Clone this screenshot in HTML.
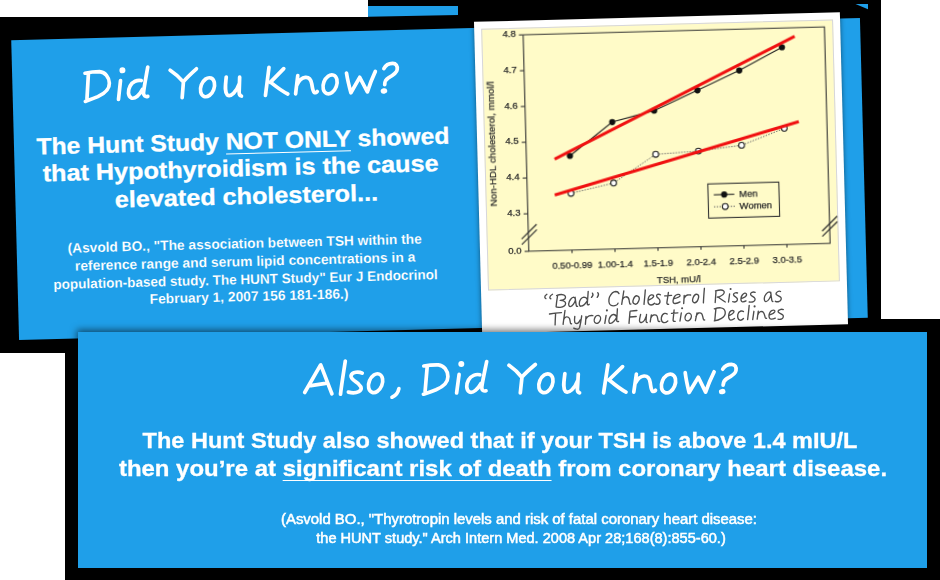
<!DOCTYPE html>
<html><head><meta charset="utf-8"><title>Did You Know</title>
<style>
*{margin:0;padding:0;box-sizing:border-box}
html,body{width:940px;height:580px;overflow:hidden;background:#000}
body{position:relative;font-family:"Liberation Sans",sans-serif;color:#fff}
.wb{position:absolute;background:#fff}
#card1{position:absolute;left:14.85px;top:29px;width:849.3px;height:300px;background:#1f9fe9;transform:rotate(-1.5deg)}
.t{position:absolute;width:900px;text-align:center;white-space:nowrap;line-height:1.2;transform-origin:50% 50%}
.hw{font-weight:normal;letter-spacing:2px;-webkit-text-stroke:0.15px #1f9fe9}
.b{font-weight:bold;-webkit-text-stroke:0.3px #fff}
.r{font-weight:bold;-webkit-text-stroke:0.15px #1f9fe9}
.rr{font-weight:normal;-webkit-text-stroke:0.5px #fff}
.cap{color:#5c5c5c;font-weight:normal;-webkit-text-stroke:0.25px #fff}
.u{text-decoration:underline;text-decoration-thickness:1.3px;text-underline-offset:4px;text-decoration-skip-ink:none}
#chart{position:absolute;left:477.8px;top:17px;width:366px;height:312px;background:#fff;transform:rotate(-1.5deg);box-shadow:0 0 5px rgba(0,0,0,.5)}
#cream{position:absolute;left:7px;top:7.3px;width:352px;height:262px;background:#fffbc8;border:1px solid #d6d6dc}
#chart svg{position:absolute;left:0;top:0;will-change:transform}
#card2{position:absolute;left:78px;top:332px;width:849px;height:236px;background:#1f9fe9;box-shadow:-1px -2px 7px rgba(0,0,0,.55)}
</style></head><body>
<div class="wb" style="left:0;top:0;width:368px;height:17px"></div>
<div class="wb" style="left:881px;top:0;width:59px;height:319px"></div>
<div class="wb" style="left:0;top:353px;width:65px;height:227px"></div>
<svg style="position:absolute;left:0;top:0" width="940" height="30">
<polygon points="368,6 458,6 458,15 368,16.8" fill="#1f9fe9"/>
<polygon points="855.5,4 868,4 868,9.2" fill="#1f9fe9"/>
</svg>
<div id="card1">
<div class="t b" style="left:-220.6px;top:94.0px;font-size:23.3px;transform:scaleX(1.0603)">The Hunt Study <span class="u">NOT ONLY</span> showed</div>
<div class="t b" style="left:-224.1px;top:121.2px;font-size:23.3px;transform:scaleX(1.0806)">that Hypothyroidism is the cause</div>
<div class="t b" style="left:-219.3px;top:149.3px;font-size:23.3px;transform:scaleX(1.0812)">elevated cholesterol...</div>
<div class="t r" style="left:-221.8px;top:202.0px;font-size:13.8px;transform:scaleX(0.9949)">(Asvold BO., "The association between TSH within the</div>
<div class="t r" style="left:-221.9px;top:220.1px;font-size:13.8px;transform:scaleX(1.0025)">reference range and serum lipid concentrations in a</div>
<div class="t r" style="left:-222.0px;top:237.5px;font-size:13.8px;transform:scaleX(0.9810)">population-based study. The HUNT Study" Eur J Endocrinol</div>
<div class="t r" style="left:-219.1px;top:255.4px;font-size:13.8px;transform:scaleX(1.0012)">February 1, 2007 156 181-186.)</div>
</div>
<div id="chart">
<div id="cream"></div>
<svg width="366" height="313" viewBox="0 0 366 313" font-family="Liberation Sans, sans-serif">
<g stroke="#333" stroke-width="1.1" fill="none">
<polyline points="48.8,14.3 350.2,14.3 350.2,230.8 48.8,230.8 48.8,14.3"/>
<line x1="44.599999999999994" y1="14.3" x2="48.8" y2="14.3"/>
<line x1="44.599999999999994" y1="50.1" x2="48.8" y2="50.1"/>
<line x1="44.599999999999994" y1="85.9" x2="48.8" y2="85.9"/>
<line x1="44.599999999999994" y1="121.7" x2="48.8" y2="121.7"/>
<line x1="44.599999999999994" y1="157.5" x2="48.8" y2="157.5"/>
<line x1="44.599999999999994" y1="193.3" x2="48.8" y2="193.3"/>
<line x1="44.599999999999994" y1="230.8" x2="48.8" y2="230.8"/>
<line x1="92" y1="230.8" x2="92" y2="233.8"/>
<line x1="135" y1="230.8" x2="135" y2="233.8"/>
<line x1="178" y1="230.8" x2="178" y2="233.8"/>
<line x1="221" y1="230.8" x2="221" y2="233.8"/>
<line x1="264" y1="230.8" x2="264" y2="233.8"/>
<line x1="307" y1="230.8" x2="307" y2="233.8"/>
</g>
<g stroke="#2a2a2a" stroke-width="1.2">
<line x1="42" y1="218.4" x2="57.3" y2="204"/><line x1="42" y1="223.9" x2="57.4" y2="209.4"/>
<line x1="342.6" y1="223.6" x2="358" y2="209.2"/><line x1="342.6" y1="218.2" x2="358" y2="203.8"/>
</g>
<g font-size="9.6" fill="#2a2a2a" stroke="#2a2a2a" stroke-width="0.25" text-anchor="end">
<text x="41.6" y="16.0">4.8</text>
<text x="41.6" y="51.8">4.7</text>
<text x="41.6" y="87.6">4.6</text>
<text x="41.6" y="123.4">4.5</text>
<text x="41.6" y="159.2">4.4</text>
<text x="41.6" y="195.0">4.3</text>
<text x="41.6" y="232.5">0.0</text>
</g>
<g font-size="9.5" fill="#2a2a2a" stroke="#2a2a2a" stroke-width="0.25" text-anchor="middle">
<text x="92" y="249">0.50-0.99</text>
<text x="135" y="249">1.00-1.4</text>
<text x="178" y="249">1.5-1.9</text>
<text x="221" y="249">2.0-2.4</text>
<text x="264" y="249">2.5-2.9</text>
<text x="307" y="249">3.0-3.5</text>
<text x="198" y="266.3">TSH, mU/l</text>
<text transform="translate(18.0,122.6) rotate(-90)" x="0" y="0" font-size="9.8">Non-HDL cholesterol, mmol/l</text>
</g>
<polyline fill="none" stroke="#666" stroke-width="1" stroke-dasharray="1.4 1.4" points="92.5,174 135.4,164.8 178.2,137.2 221,135.1 264.3,130.4 307.4,114.6"/>
<polyline fill="none" stroke="#222" stroke-width="1.1" points="92.4,136.5 135.6,103.8 177.8,93.4 221.6,74.3 263.9,55.6 307.2,33.5"/>
<circle cx="92.4" cy="136.5" r="3.1" fill="#111"/>
<circle cx="135.6" cy="103.8" r="3.1" fill="#111"/>
<circle cx="177.8" cy="93.4" r="3.1" fill="#111"/>
<circle cx="221.6" cy="74.3" r="3.1" fill="#111"/>
<circle cx="263.9" cy="55.6" r="3.1" fill="#111"/>
<circle cx="307.2" cy="33.5" r="3.1" fill="#111"/>
<circle cx="92.5" cy="174" r="2.9" fill="#fff" stroke="#222" stroke-width="1.1"/>
<circle cx="135.4" cy="164.8" r="2.9" fill="#fff" stroke="#222" stroke-width="1.1"/>
<circle cx="178.2" cy="137.2" r="2.9" fill="#fff" stroke="#222" stroke-width="1.1"/>
<circle cx="221" cy="135.1" r="2.9" fill="#fff" stroke="#222" stroke-width="1.1"/>
<circle cx="264.3" cy="130.4" r="2.9" fill="#fff" stroke="#222" stroke-width="1.1"/>
<circle cx="307.4" cy="114.6" r="2.9" fill="#fff" stroke="#222" stroke-width="1.1"/>
<line x1="77" y1="139.3" x2="320.2" y2="22.9" stroke="#f01010" stroke-width="3"/>
<line x1="76.2" y1="175.3" x2="322.1" y2="108.2" stroke="#f01010" stroke-width="3"/>
<rect x="229.5" y="168.2" width="71" height="34.2" fill="none" stroke="#333" stroke-width="1.1"/>
<line x1="235.2" y1="179.2" x2="255.7" y2="179.2" stroke="#222" stroke-width="1.1"/>
<circle cx="245.6" cy="179.2" r="3.1" fill="#111"/>
<line x1="235" y1="191.2" x2="256.6" y2="191.2" stroke="#666" stroke-width="1" stroke-dasharray="1.4 1.4"/>
<circle cx="246.3" cy="191.2" r="2.9" fill="#fff" stroke="#222" stroke-width="1.1"/>
<g font-size="9.5" fill="#2a2a2a" stroke="#2a2a2a" stroke-width="0.25"><text x="260.6" y="181.9">Men</text><text x="260.6" y="193.7">Women</text></g>
</svg>

</div>
<div id="card2">
<div class="t b" style="left:-28.1px;top:96.4px;font-size:21.8px;transform:scaleX(1.0791)">The Hunt Study also showed that if your TSH is above 1.4 mIU/L</div>
<div class="t b" style="left:-24.9px;top:124.0px;font-size:21.8px;transform:scaleX(1.0991)">then you’re at <span class="u">significant risk of death</span> from coronary heart disease.</div>
<div class="t rr" style="left:-8.7px;top:180.0px;font-size:13.8px;transform:scaleX(1.0807)">(Asvold BO., "Thyrotropin levels and risk of fatal coronary heart disease:</div>
<div class="t rr" style="left:-7.4px;top:198.5px;font-size:13.8px;transform:scaleX(1.0558)">the HUNT study." Arch Intern Med. 2008 Apr 28;168(8):855-60.)</div>
</div>
<svg style="position:absolute;left:0;top:0;pointer-events:none" width="940" height="340" viewBox="0 0 940 340">
<g fill="none" stroke="#4d4d4d" stroke-width="1.35" stroke-linecap="round" stroke-linejoin="round">
<path d="M546.9,294.3 C545.5,295.3 544.6,296.3 544.8,297.2 C545,297.9 545.5,298.4 545.9,298.6 M552.5,294.3 C551,295.3 549.9,296.3 549.8,297.2 C549.8,298 550.3,298.6 550.9,298.8"/>
<path d="M557.6,295.3 C557,299 556.4,303 556.1,306.8 M556.6,295.6 C558.5,294.8 561.5,294.3 563.5,294.8 C565.5,295.5 566,297.5 565,298.8 C564,300 562,300.4 560.2,300.4 C563,300.6 565.7,301.5 565.6,303.5 C565.5,305.5 563,307 560.2,307.3 C558.8,307.4 557.5,307.2 556.5,307.1"/>
<path d="M575.4,299.5 C574.9,297.7 574.5,297.1 573.8,297.1 C571.5,297.3 568.9,301 568.7,303.9 C568.6,305.6 569.3,306.6 570.3,306.6 C572.5,306.5 574.8,302.5 575.5,299.8 M575.1,297.3 C575.5,300.5 575.9,303.5 576.3,305.6 C576.5,306.3 577,306.5 577.6,306.3"/>
<path d="M587.6,300 C586.8,298 585,297.1 583.7,297.1 C581.5,297.3 579.4,300.5 579.3,303.2 C579.2,305 579.8,306.2 580.9,306.2 C583,306 586,303 587.5,300.3 M588.2,291.4 C587.9,296 587.5,301 587.3,304 C587.3,304.8 588,305 589.2,304.3"/>
<path d="M592.4,293.1 C593.2,294 593.4,295.5 591.4,297.4 M597.8,292.6 C598.7,293.6 598.8,295.3 597.2,297.4"/>
<path d="M619,293.6 C618.2,292 617,291.5 615.9,291.5 C613.5,291.6 611,293.8 609.5,297 C608.3,300 608.8,304 610.5,305 C612,305.9 614.8,305.9 616.5,305 C617.2,304.6 617.7,303.9 618,303.2"/>
<path d="M623.8,291 L621.7,304.3 M622.2,300 C623,298.2 624.2,296.8 625.6,296.8 C627.5,296.7 628.8,297.5 629.1,300 C629.3,301.8 629.5,303 629.8,303.6 C630.1,304.1 630.5,304.2 630.9,304"/>
<ellipse cx="636.1" cy="300" rx="2.8" ry="4.3" transform="rotate(22 636.1 300)"/>
<path d="M645.3,290 C645,295 644.4,300 644,304.4"/>
<path d="M648.5,300 C650.5,299.3 653,298 653.6,296.5 C653.8,295.3 652.6,294.6 651.3,294.9 C649.5,295.4 648.2,297.8 648,300.5 C647.9,303 649,304.9 651,305 C652.5,305.1 653.8,304.2 654.6,303.3"/>
<path d="M660.4,294.8 C659.5,294.2 658.3,294.1 657.5,294.4 C656.5,294.9 656.3,296.2 657.2,297.2 C658.2,298.3 659.9,299 660,301 C660.1,302.8 659,304.2 657.3,304.4 C656.6,304.5 656.1,304.2 655.7,303.9"/>
<path d="M668.4,292.4 C668,296 667.2,300 666.9,302.5 C666.8,303.8 667.5,304.5 668.6,304.3 M664.7,295.9 L671.6,295.4"/>
<path d="M674.1,298.7 C676,298.2 679.5,297 680,296 C680.3,294.8 679,294.2 677.9,294.4 C675.8,294.8 673.6,297.2 673.1,300.3 C672.8,302.5 673.7,303.6 675.2,303.5 C677,303.4 678.8,302.6 680,301.9"/>
<path d="M684.2,295.5 L683.7,303.5 M684.2,298.1 C685,296.6 686,295.3 687.4,295 C688.5,294.8 689.6,294.8 690.6,295"/>
<ellipse cx="695.6" cy="298.5" rx="2.6" ry="4.4" transform="rotate(22 695.6 298.5)"/>
<path d="M704.4,288.3 C704,293 703.6,298 703.4,302.9"/>
<path d="M716,291.1 L715.2,302.5 M715.5,290.8 C717.5,290.3 719.5,289.9 721,290 C723,290.2 724.4,291 724.2,292.5 C724,294 722,295.6 719.6,296.6 C718.8,296.9 718,297.1 717.3,297.2 M717.9,297 C720,298.5 722.8,300.5 725.3,302"/>
<path d="M729.6,294 L728.5,302"/>
<path d="M737.5,293 C736.6,292.7 735.6,292.7 734.9,293 C733.7,293.5 733.2,294.6 733.8,295.5 C734.6,296.6 737,297.2 737.4,299 C737.7,300.5 736.5,301.8 734.9,302 C734,302.1 733.3,301.9 732.7,301.7"/>
<path d="M741.8,298.3 C743.5,297.8 746,296.5 746.5,295.3 C746.8,294 745.9,293 744.8,293.2 C743,293.5 741.2,296 741,298.3 C740.8,300.5 741.3,301.7 742.5,301.8 C744,301.9 745.2,301.4 746,300.9"/>
<path d="M755.1,292.4 C754.2,292 752.8,292 751.9,292.4 C750.6,293 750.2,294.2 751,295.2 C752,296.3 754.4,296.9 755,298.6 C755.4,300 754.4,301.6 752.4,302 C751.3,302.2 750,302.1 749.2,302"/>
<path d="M771,294 C770.6,292.6 770,291.9 769.3,291.9 C767,292.1 764.5,295.5 764.3,298.2 C764.2,300.3 764.9,301.6 766,301.6 C768.3,301.4 770.4,297.3 771.1,294.3 M770.7,292.1 C771,295 771.5,298.5 771.9,300.6 C772.1,301.3 772.4,301.6 772.9,301.5"/>
<path d="M780.6,291.5 C779.8,291.1 778.8,291.1 778,291.5 C776.6,292.2 775.6,293.3 776.2,294.4 C776.9,295.6 779.3,296 780.7,297.3 C781.8,298.3 781.2,300.6 779,301.5 C777.8,301.9 776.3,301.8 775.3,301.3"/>
<path d="M549.5,314 C553,313.3 557.5,312.8 561.5,312.6 M555.6,313.4 C555.4,317 555.2,321 555.1,324.9"/>
<path d="M565,310.5 C564.4,315 563.6,320 563.1,324.3 M563.6,319.6 C564.4,318 565.3,317 566.3,316.9 C567.8,316.7 568.8,317.2 569.5,318.5 C570,319.6 570.1,321.8 570.5,323.3 C570.8,324 571.2,324 571.6,323.8"/>
<path d="M574.8,316.4 C574.5,318.5 574.3,320.8 574.8,322.2 C575.3,323.5 576.4,323.8 577.5,323.3 C578.8,322.7 579.6,321.5 580.1,320 M581.7,315.8 C581.2,319.5 580.5,324 579.6,327.5 C579,329 577.9,329.4 576.9,329.1 C575.6,328.9 574.6,328.6 573.7,328.1"/>
<path d="M586,316.4 L585.4,324.3 M586,319 C586.8,317.4 587.9,316.2 589.1,315.8 C590.4,315.5 591.6,315.5 592.9,315.6"/>
<ellipse cx="597.4" cy="319.4" rx="3.0" ry="4.1" transform="rotate(22 597.4 319.4)"/>
<path d="M606.1,315.4 L604.8,323.4"/>
<path d="M616.9,317.5 C616,315.2 614.5,314.3 613.3,314.5 C611,314.9 609,318 608.9,320.8 C608.9,322.6 609.5,323.5 610.4,323.4 C612.5,323.2 615.5,320 616.8,317 M617.4,308.8 C617.2,313 616.9,317.5 616.7,320.5 C616.7,321.4 617.5,321.8 618.6,321.5"/>
<path d="M630,311.7 C629.7,315.5 629.3,319.5 629,323.4 M630.3,311.2 C632.5,310.9 634.8,310.6 636.9,310.5 M629.8,317 C631.8,316.8 634,316.6 636.2,316.5"/>
<path d="M640.6,314.5 C640.2,316.5 639.3,319 639.5,320.8 C639.8,322.3 640.8,322.8 641.8,322.4 C643.3,321.9 645.1,319.5 646,316.6 M646.5,314.5 C646.3,317 646,319.5 646.1,321.2 C646.2,322.2 646.6,322.6 647.2,322.5"/>
<path d="M651.3,315 L650.2,321.9 M650.7,318.2 C651.4,316.5 652.3,315.2 653.5,315 C655,314.7 656.3,314.8 657,316 C657.7,317.4 657.7,319.5 658.2,320.9 C658.5,321.6 659.2,321.6 659.8,321.4"/>
<path d="M667.2,314 C666.5,313.4 665.5,313.3 664.6,313.4 C662.9,313.8 661.8,315.5 661.4,317.5 C661.1,319.8 661.9,322 663.5,322.5 C665,322.9 666.6,322 667.8,320.9"/>
<path d="M674.1,310 C673.8,313.5 673.3,317.5 673.1,320 C673,321 673.6,321.6 675.2,321.4 M671.5,313.4 L677.9,312.9"/>
<path d="M681.3,313 L680,321"/>
<ellipse cx="688.2" cy="317" rx="3.0" ry="4.0" transform="rotate(22 688.2 317)"/>
<path d="M697,313 L695.4,320.7 M695.9,316.7 C696.6,315 697.5,313.4 698.6,313 C699.8,312.7 701,312.8 701.8,313.8 C702.6,315 702.8,317.5 703.4,319.2 C703.7,319.9 704.2,320.1 704.7,319.9"/>
<path d="M714.3,308.9 C716.3,308.2 718.5,307.7 720.6,307.8 C723,308 724.8,309.5 725.2,311.8 C725.6,314.5 724,316.8 721.5,318.3 C719.3,319.6 716.5,320.5 714.3,320.9 M715.9,308.9 C715.5,312.8 715.1,317 714.8,320.6"/>
<path d="M729.7,315.3 C731.3,314.6 733.5,313.4 733.9,312.1 C734.2,311 733.3,310.4 732.3,310.5 C730.6,310.7 729,312.8 728.7,315.2 C728.4,317.6 729.2,320 730.7,320.1 C732.1,320.2 733.5,319.3 734.5,318.5"/>
<path d="M743.5,311.6 C742.8,311 741.8,310.9 740.9,311 C739.2,311.5 738.1,312.6 737.8,314.5 C737.5,316.5 738,319.3 739.8,320.1 C741.2,320.5 742.6,319.5 743.5,318.5"/>
<path d="M749.2,305.4 C748.8,310 748.2,315 747.6,319.6"/>
<path d="M753.9,311.3 L752.7,319.6"/>
<path d="M758.3,311.1 L757.2,319.1 M757.8,314.9 C758.5,313.3 759.4,312 760.4,311.7 C761.5,311.4 762.7,311.5 763.4,312.4 C764.3,313.5 764.7,315.8 765.2,317.5 C765.6,318.4 766,318.5 766.5,318.3"/>
<path d="M769.5,314.9 C771.5,314.3 774.2,313 774.8,311.7 C775.1,310.6 774.2,309.9 773.2,310.1 C771.5,310.4 769.6,312.3 769.1,314.7 C768.7,317 769.5,319 771.1,319.1 C772.6,319.2 774.3,318.6 775.3,318.1"/>
<path d="M783.3,309.6 C782.4,309.2 781,309.2 780.1,309.6 C778.6,310.2 777.7,311.1 778.3,312.2 C779,313.3 781.4,313.8 782.8,315 C783.8,316 783.4,318.2 781.4,319 C780.3,319.4 778.8,319.3 778,319.1"/>
</g>
<g fill="#4d4d4d"><circle cx="730.6" cy="289" r="1.05"/><circle cx="606.9" cy="310.4" r="1.05"/><circle cx="682.1" cy="308.2" r="1.05"/><circle cx="754.6" cy="306.4" r="1.05"/></g>
</svg>
<svg style="position:absolute;left:0;top:0" width="940" height="580" viewBox="0 0 940 580">
<defs><g id="dyk"><g fill="none" stroke="#fff" stroke-width="3.7" stroke-linecap="round" stroke-linejoin="round">
<path d="M423.8,366 C428.5,365.2 434,364.8 438.4,364.9 C444,365.5 447.8,370.5 447.9,376.6 C448,382.5 443,386.8 436,389.8 C431,391.8 427,393 423.4,394.2 M427.2,366.6 L425.1,391.4"/>
<path d="M459.1,374.4 L456.6,393"/>
<path d="M479.8,374.8 C476,373.8 471,375.5 468.5,380 C466,384.5 466,390 469.5,392 C473,393.5 478,389 481,383.5 M486.7,361.5 C485,370 482.5,381 481.8,387 C481.5,390 483.5,391.5 486,390.8"/>
<path d="M509,365.3 C513.5,368.5 518.5,373 521.6,377 M535.3,364.5 C530,369 525,373.5 522,377 L520.3,392.9"/>
<ellipse cx="545.9" cy="383.25" rx="6.6" ry="9.8" transform="rotate(22 545.9 383.25)"/>
<path d="M564.9,373.5 C564,381 562.5,388 565.5,391.5 C569,394 575,388 577.8,380.5 M578.3,374 L577.4,389.5 C577.4,391.5 578.3,392.6 579.6,392.9"/>
<path d="M607.9,364.9 L603.6,392.9 M622.6,366.6 L608.8,380 M609.2,380 C614,384 620,389 626,392.1"/>
<path d="M636.4,374 L633.8,392.1 M635.2,383.5 C637.5,379 640.5,376.2 644,376 C647.5,375.8 649.5,378 650.2,382.6 C650.8,386.5 651,390 652.5,391.2 C653.5,392 655,391 655.5,390.3"/>
<ellipse cx="668.5" cy="383.5" rx="6.6" ry="9.8" transform="rotate(22 668.5 383.5)"/>
<path d="M685.2,372.7 C686,379 687.5,386 689.1,392.5 L698.3,377.3 L705.6,392.1 C708,385 711,378 714.1,371.8"/>
<path d="M722.7,369.2 C724.5,366 728,364.3 731.5,364.3 C735,364.3 736.5,367 736,370.5 C735.5,374 731,376.5 727,378.5 C724.5,379.8 723.3,382 723.1,385.2"/>
</g><g fill="#fff"><circle cx="461.3" cy="364.1" r="3.0"/>
<ellipse cx="722.2" cy="391.6" rx="3.3" ry="2.7" transform="rotate(-10 722.2 391.6)"/></g></g></defs>
<g fill="none" stroke="#fff" stroke-width="3.7" stroke-linecap="round" stroke-linejoin="round">
<path d="M304.7,392.5 L320.3,365.3 M320.7,364.9 C324,373 328,384 331.9,393.8 M311,385.6 L325.5,383.4"/>
<path d="M345.3,361 C344,370 341.5,385 340.5,394.2"/>
<path d="M362.2,373.1 C359,371.5 352,371.5 351,375.7 C350.5,379 356,381.5 358.8,384.3 C362,387 362,390 358.8,391.6 C356,393 351,392.8 348.4,392.1"/>
<ellipse cx="375.6" cy="383.2" rx="6.6" ry="9.8" transform="rotate(22 375.6 383.2)"/>
<path d="M398.9,388.6 C398,393 395,396 392,397.2"/>
</g>
<use href="#dyk"/>
<use href="#dyk" transform="translate(85.0,73.2) rotate(-1.5) translate(-423.8,-366)"/>
</svg>
</body></html>
